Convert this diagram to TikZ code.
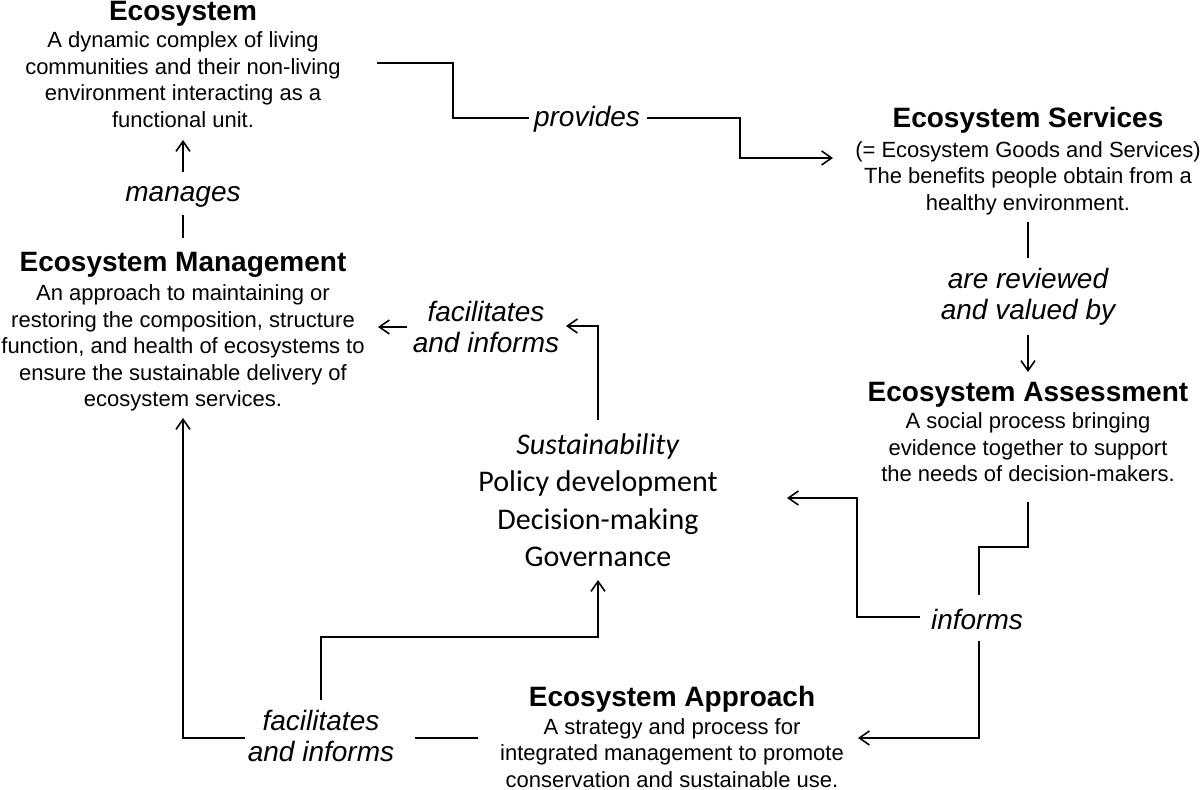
\documentclass[tikz,border=0pt]{standalone}
\usepackage{fontspec}
\setmainfont{Liberation Sans}
\newfontfamily\calfont{Carlito}
\usetikzlibrary{arrows.meta}
\begin{document}
\begin{tikzpicture}[x=0.5pt,y=-0.5pt,
  ttl/.style={font=\fontsize{14}{16}\selectfont\bfseries, inner sep=0pt, anchor=base},
  body/.style={font=\fontsize{11}{13.25}\selectfont, align=center, inner sep=0pt, anchor=base},
  lbl/.style={font=\fontsize{14}{15.5}\selectfont\itshape, align=center, inner sep=0pt, anchor=base},
  pol/.style={font=\calfont\fontsize{15}{18.75}\selectfont, align=center, inner sep=0pt, anchor=base},
  conn/.style={line width=0.8pt},
  arr/.style={conn, -{Straight Barb[length=5pt,width=7pt]}},
]
\useasboundingbox[fill=white] (0,0) rectangle (1200,790);

% Ecosystem (base anchor = last line's baseline)
\node[ttl] (ecoT) at (183,21) {Ecosystem};
\node[body] (eco) at (183,127.5) {A dynamic complex of living\\communities and their non-living\\environment interacting as a\\functional unit.};
\node[lbl] (man) at (183,202) {manages};

% Ecosystem Management
\node[ttl] (mgmtT) at (183,272) {Ecosystem Management};
\node[body] (mgmt) at (183,407) {An approach to maintaining or\\restoring the composition, structure\\function, and health of ecosystems to\\ensure the sustainable delivery of\\ecosystem services.};

% provides
\node[lbl] (prov) at (587,127) {provides};

% Ecosystem Services
\node[ttl] (servT) at (1028,128) {Ecosystem Services};
\node[body] (serv) at (1028,210.5) {(= Ecosystem Goods and Services)\\The benefits people obtain from a\\healthy environment.};
\node[lbl] (rev) at (1028,320) {are reviewed\\and valued by};

% Ecosystem Assessment
\node[ttl] (assT) at (1028,402) {Ecosystem Assessment};
\node[body] (ass) at (1028,482) {A social process bringing\\evidence together to support\\the needs of decision-makers.};
\node[lbl] (inf) at (977,630) {informs};

% Centre
\node[pol] (pol) at (598,567) {\textit{Sustainability}\\Policy development\\Decision-making\\Governance};
\node[lbl] (fac1) at (486,353) {facilitates\\and informs};

% Ecosystem Approach
\node[ttl] (appT) at (672,707) {Ecosystem Approach};
\node[body] (app) at (672,787) {A strategy and process for\\integrated management to promote\\conservation and sustainable use.};
\node[lbl] (fac2) at (321,762) {facilitates\\and informs};

% connectors
\draw[conn] (377,63) -- (453,63) -- (453,118) -- (529,118);
\draw[arr] (647,118) -- (740,118) -- (740,158) -- (833,158);

\draw[conn] (mgmtT.north |- 183,238) -- (man.south |- 183,215);
\draw[arr] (man.north |- 183,172) -- (eco.south |- 183,140);

\draw[conn] (servT.south |- 1028,222) -- (rev.north |- 1028,258);
\draw[arr] (rev.south |- 1028,335) -- (assT.north |- 1028,372);

\draw[conn] (ass.south |- 1028,502) -- (1028,547) -- (979,547) -- (979,595);
\draw[arr] (920,617) -- (857,617) -- (857,498) -- (787,498);
\draw[arr] (979,641) -- (979,738) -- (858,738);

\draw[arr] (407,327) -- (378,327);
\draw[arr] (pol.north |- 598,420) -- (598,326) -- (566,326);

\draw[arr] (245,738) -- (183,738) -- (mgmt.south |- 183,418);
\draw[conn] (415,738) -- (478,738);
\draw[arr] (fac2.north |- 321,700) -- (321,637) -- (598,637) -- (pol.south |- 598,580);
\end{tikzpicture}
\end{document}
